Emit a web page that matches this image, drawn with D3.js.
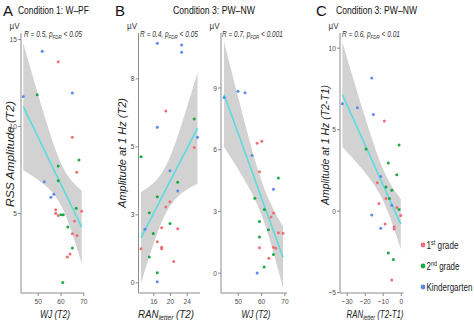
<!DOCTYPE html>
<html>
<head>
<meta charset="utf-8">
<script src="https://cdn.jsdelivr.net/npm/d3@7"></script>
<style>
  body { margin: 0; background: #fff; }
  svg { font-family: "Liberation Sans", Arial, sans-serif; }
  .tick text { fill: #4d4d4d; font-size: 8px; }
  .axis path, .axis line { stroke: #8c8c8c; }
  .axis-title { font-style: italic; font-size: 10px; fill: #222; }
  .stat-label { font-style: italic; font-size: 8.5px; fill: #333; }
  .unit-label { font-size: 9px; fill: #333; }
  .panel-letter { font-size: 15px; fill: #111; }
  .panel-title { font-size: 11px; fill: #111; }
  .legend text { font-size: 10px; fill: #222; }
</style>
</head>
<body>
<div id="wrapper"></div>
<script>

// grade codes: "1" = 1st grade, "2" = 2nd grade, "K" = kindergarten
const gradeKeys = ["1", "2", "K"]
const gradeColors = { "1": "#ee6f78", "2": "#1ba846", "K": "#5b8aec" }

// A: Condition 1 W-PF, RSS amplitude vs WJ (T2)
const wjA = [52.0, 59.0, 43.7, 49.8, 65.2, 65.2, 68.1, 59.0, 67.1, 52.9, 59.0, 57.1, 55.8, 66.9,
  69.3, 57.9, 57.9, 59.0, 60.2, 61.2, 63.2, 66.1, 65.2, 67.2, 65.2, 64.2, 63.0, 61.0]
const rssA = [14.3, 13.7, 11.7, 11.8, 11.9, 9.35, 8.05, 7.7, 7.35, 6.8, 6.85, 6.08, 5.9, 5.27,
  5.1, 5.19, 4.98, 4.85, 4.9, 4.9, 4.2, 4.54, 3.8, 3.7, 2.99, 2.64, 2.47, 1.0]
const gradeA = ["K", "1", "K", "2", "K", "1", "2", "2", "1", "K", "2", "K", "K", "2",
  "1", "1", "1", "1", "2", "2", "2", "1", "1", "1", "2", "1", "1", "2"]

// B left: Condition 3 PW-NW, 1 Hz amplitude vs RAN letter (T2)
const ranB = [16.96, 22.8, 22.8, 19.0, 16.96, 25.8, 26.6, 25.8, 13.05, 20.0, 21.85, 21.85, 16.96,
  20.0, 19.0, 15.04, 14.0, 18.0, 20.0, 21.85, 16.0, 16.96, 18.0, 18.0, 13.05, 15.04, 20.9, 16.96, 16.96]
const ampB = [8.79, 8.72, 8.46, 6.3, 5.7, 6.0, 5.33, 4.96, 4.62, 4.1, 3.68, 3.36, 3.15,
  2.96, 2.77, 2.56, 1.95, 2.01, 2.16, 1.97, 1.8, 1.49, 1.29, 1.24, 1.24, 0.93, 0.77, 0.35, 0.02]
const gradeB = ["K", "K", "K", "1", "K", "2", "K", "1", "2", "K", "2", "K", "2",
  "1", "1", "2", "K", "1", "2", "1", "2", "1", "1", "1", "1", "2", "1", "2", "K"]

// B right: Condition 3 PW-NW, 1 Hz amplitude vs WJ (T2)
const wjB = [44.1, 50.1, 53.1, 58.3, 60.3, 56.1, 59.3, 67.4, 65.3, 57.3, 61.4, 65.3, 64.3,
  59.3, 63.1, 67.4, 69.4, 59.3, 65.3, 66.3, 59.3, 65.3, 63.3, 61.3, 58.3]
const ampWjB = [8.51, 8.82, 8.75, 6.29, 6.39, 5.69, 4.9, 4.6, 4.05, 3.62, 3.07, 2.9, 2.7,
  2.49, 2.09, 1.94, 1.91, 1.73, 1.24, 1.19, 1.21, 0.88, 0.7, 0.28, -0.02]
const gradeWjB = ["K", "K", "K", "1", "1", "K", "1", "2", "K", "2", "2", "1", "1",
  "2", "2", "1", "1", "2", "1", "1", "1", "2", "1", "2", "K"]

// C: Condition 3 PW-NW, 1 Hz amplitude change vs RAN letter change (T2-T1)
const ranC = [-16.1, -32.4, -24.1, -15.2, -9.1, -0.94, -19.3, -6.9, -2.2, -11.1, -13.0, -8.2, -5.0, -8.2,
  -6.3, -12.1, -5.0, -2.2, -0.94, -16.1, 0, -8.7, -11.1, -3.7, -3.7, -6.9, -4.1, -5.0]
const ampC = [8.14, 6.56, 6.32, 5.9, 5.5, 4.03, 3.78, 2.93, 2.2, 2.1, 1.72, 1.46, 1.25, 0.75,
  0.75, 0.44, 0.34, 0.2, 0.08, -0.26, -0.3, -0.81, -1.08, -0.98, -1.12, -2.6, -3.0, -4.25]
const gradeC = ["K", "K", "K", "K", "1", "2", "2", "2", "2", "K", "1", "2", "2", "1",
  "2", "1", "K", "1", "2", "K", "1", "1", "K", "1", "1", "2", "2", "1"]

// tick values
const ticksA = { x: [50, 60, 70], y: [5, 10, 15] }
const ticksB = { x: [16, 20, 24], y: [0, 2.5, 5, 7.5] }
const ticksWjB = { x: [50, 60, 70], y: [0, 3, 6, 9] }
const ticksC = { x: [-30, -20, -10, 0], y: [-5, 0, 5, 10] }

const statLabels = [
  { r: "0.5", p: "< 0.05" },
  { r: "0.4", p: "< 0.05" },
  { r: "0.7", p: "< 0.001" },
  { r: "0.6", p: "< 0.01" },
]

function zipPoints(xs, ys, gs) {
  return xs.map((x, i) => ({ x, y: ys[i], grade: gs[i] }))
}

// ordinary least squares with a 95% confidence band for the mean
function linearFit(points, steps = 60) {
  const n = points.length
  const mx = d3.mean(points, d => d.x)
  const my = d3.mean(points, d => d.y)
  const sxx = d3.sum(points, d => (d.x - mx) ** 2)
  const sxy = d3.sum(points, d => (d.x - mx) * (d.y - my))
  const slope = sxy / sxx
  const intercept = my - slope * mx
  const rss = d3.sum(points, d => (d.y - intercept - slope * d.x) ** 2)
  const sigma = Math.sqrt(rss / (n - 2))
  const t = 1.96 + 2.4 / (n - 2)
  const [x0, x1] = d3.extent(points, d => d.x)
  return d3.range(steps + 1).map(i => {
    const x = x0 + (x1 - x0) * i / steps
    const fit = intercept + slope * x
    const se = sigma * Math.sqrt(1 / n + (x - mx) ** 2 / sxx)
    return { x, fit, lo: fit - t * se, hi: fit + t * se }
  })
}

// squeeze a text horizontally to a given width (narrow typeface look)
function fitText(text, x, y, width, rotate = 0) {
  const natural = text.node().getComputedTextLength()
  const k = width / natural
  text.attr("transform", `translate(${x},${y}) rotate(${rotate}) scale(${k},1)`)
}

// text with an optional sub/superscript part: [base, small, rest]
function richText(parent, cls, parts, shift) {
  const text = parent.append("text")
      .attr("class", cls)
  text.append("tspan").text(parts[0])
  if (parts.length > 1 && parts[1]) {
    text.append("tspan")
        .attr("dy", shift)
        .style("font-size", "0.68em")
        .text(parts[1])
    text.append("tspan")
        .attr("dy", -shift)
        .text(parts[2])
  } else if (parts.length > 2) {
    text.append("tspan").text(parts[2])
  }
  return text
}

function drawChart() {

  const dimensions = { width: 474, height: 328, top: 33, bottom: 293 }

  const wrapper = d3.select("#wrapper")
    .append("svg")
      .attr("width", dimensions.width)
      .attr("height", dimensions.height)

  const panels = [
    { id: "a", points: zipPoints(wjA, rssA, gradeA), ticks: ticksA, left: 21, right: 84,
      xDomain: [42.7, 70.3], yDomain: [0.4, 15.35], stat: statLabels[0], statX: 24, statW: 58,
      yTitle: "RSS Amplitude (T2)", yTitleX: 14, yTitleY: 154, yTitleW: 106,
      xTitle: ["WJ (T2)"], xTitleX: 55, xTitleW: 30 },
    { id: "b1", points: zipPoints(ranB, ampB, gradeB), ticks: ticksB, left: 138.5, right: 200,
      xDomain: [12.45, 27.2], yDomain: [-0.39, 9.165], stat: statLabels[1], statX: 140, statW: 58,
      yTitle: "Amplitude at 1 Hz (T2)", yTitleX: 126, yTitleY: 153, yTitleW: 110,
      xTitle: ["RAN", "letter", " (T2)"], xTitleX: 166, xTitleW: 56 },
    { id: "b2", points: zipPoints(wjB, ampWjB, gradeWjB), ticks: ticksWjB, left: 221, right: 287,
      xDomain: [42.8, 71.1], yDomain: [-0.99, 11.65], stat: statLabels[2], statX: 222, statW: 61,
      xTitle: ["WJ (T2)"], xTitleX: 256, xTitleW: 29 },
    { id: "c", points: zipPoints(ranC, ampC, gradeC), ticks: ticksC, left: 340, right: 403.3,
      xDomain: [-33.7, 1.4], yDomain: [-5.05, 10.9], stat: statLabels[3], statX: 342, statW: 58,
      yTitle: "Amplitude at 1 Hz (T2-T1)", yTitleX: 329, yTitleY: 145, yTitleW: 120,
      xTitle: ["RAN", "letter", " (T2-T1)"], xTitleX: 375, xTitleW: 57 },
  ]

  panels.forEach(p => drawPanel(wrapper, p, dimensions))

  // panel headers
  const headers = [
    { letter: "A", letterX: 3, title: "Condition 1: W\u2013PF", titleX: 18, titleW: 71 },
    { letter: "B", letterX: 115, title: "Condition 3: PW\u2013NW", titleX: 173, titleW: 82 },
    { letter: "C", letterX: 316, title: "Condition 3: PW\u2013NW", titleX: 336, titleW: 81 },
  ]
  headers.forEach(h => {
    wrapper.append("text")
        .attr("class", "panel-letter")
        .attr("x", h.letterX)
        .attr("y", 16)
        .text(h.letter)
    const title = wrapper.append("text")
        .attr("class", "panel-title")
        .text(h.title)
    fitText(title, h.titleX, 14, h.titleW)
  })

  // legend
  const legendItems = [
    { key: "1", parts: ["1", "st", " grade"], width: 32 },
    { key: "2", parts: ["2", "nd", " grade"], width: 33 },
    { key: "K", parts: ["Kindergarten"], width: 46 },
  ]
  const legendScale = d3.scalePoint()
    .domain(gradeKeys)
    .range([245, 287])
  const legend = wrapper.append("g")
      .attr("class", "legend")
  legendItems.forEach(d => {
    legend.append("circle")
        .attr("cx", 423)
        .attr("cy", legendScale(d.key))
        .attr("r", 2.4)
        .attr("fill", gradeColors[d.key])
    const label = richText(legend, "legend-label", d.parts, -3.5)
    fitText(label, 426.5, legendScale(d.key) + 3.5, d.width)
  })
}

function drawPanel(wrapper, p, dimensions) {
  const xScale = d3.scaleLinear()
    .domain(p.xDomain)
    .range([p.left, p.right])
  const yScale = d3.scaleLinear()
    .domain(p.yDomain)
    .range([dimensions.bottom, dimensions.top])

  const clipId = `clip-${p.id}`
  wrapper.append("clipPath")
      .attr("id", clipId)
    .append("rect")
      .attr("x", p.left)
      .attr("y", dimensions.top)
      .attr("width", p.right - p.left)
      .attr("height", dimensions.bottom - dimensions.top)

  const bounds = wrapper.append("g")
      .attr("clip-path", `url(#${clipId})`)

  // regression band and line
  const fit = linearFit(p.points)
  const bandGenerator = d3.area()
    .x(d => xScale(d.x))
    .y0(d => yScale(d.lo))
    .y1(d => yScale(d.hi))
  bounds.append("path")
      .attr("d", bandGenerator(fit))
      .attr("fill", "#d2d2d2")

  const lineGenerator = d3.line()
    .x(d => xScale(d.x))
    .y(d => yScale(d.fit))
  bounds.append("path")
      .attr("d", lineGenerator(fit))
      .attr("fill", "none")
      .attr("stroke", "#5ddbdc")
      .attr("stroke-width", 1.6)

  bounds.selectAll("circle")
    .data(p.points)
    .join("circle")
      .attr("cx", d => xScale(d.x))
      .attr("cy", d => yScale(d.y))
      .attr("r", 1.5)
      .attr("fill", d => gradeColors[d.grade])

  // axes
  const xAxis = wrapper.append("g")
      .attr("class", "axis")
      .attr("transform", `translate(0, ${dimensions.bottom})`)
      .call(d3.axisBottom(xScale).tickValues(p.ticks.x).tickSize(3).tickPadding(2))
  xAxis.select(".domain").attr("d", `M${p.left},0H${p.right}`)

  const yAxis = wrapper.append("g")
      .attr("class", "axis")
      .attr("transform", `translate(${p.left}, 0)`)
      .call(d3.axisLeft(yScale).tickValues(p.ticks.y).tickSize(3).tickPadding(2))
  yAxis.select(".domain").attr("d", `M0,${dimensions.top}V${dimensions.bottom}`)

  wrapper.selectAll(".tick text")
      .attr("transform", "scale(0.82,1)")

  // unit and stats
  const unit = wrapper.append("text")
      .attr("class", "unit-label")
      .attr("text-anchor", "end")
      .text("\u00b5V")
  fitText(unit, p.left - 1.5, 29, 10)

  const stat = richText(wrapper, "stat-label",
    [`R = ${p.stat.r}, p`, "FDR", ` ${p.stat.p}`], 2)
  fitText(stat, p.statX, 37, p.statW)

  if (p.yTitle) {
    const yTitle = wrapper.append("text")
        .attr("class", "axis-title")
        .attr("text-anchor", "middle")
        .text(p.yTitle)
    fitText(yTitle, p.yTitleX, p.yTitleY, p.yTitleW, -90)
  }

  const xTitle = richText(wrapper, "axis-title", p.xTitle, 2)
      .attr("text-anchor", "middle")
  fitText(xTitle, p.xTitleX, 318, p.xTitleW)
}

drawChart()
</script>
</body>
</html>
